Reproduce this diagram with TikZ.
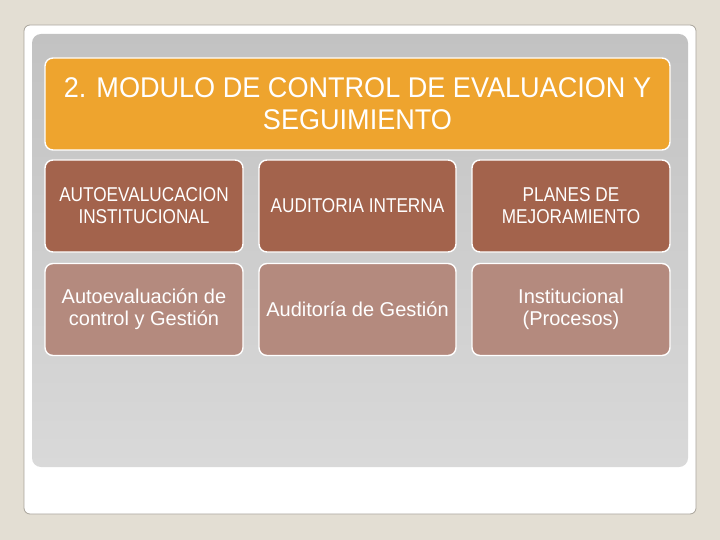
\documentclass[tikz,border=0pt]{standalone}
\usepackage{fontspec}
\setmainfont{Liberation Sans}
\newfontfamily\twfont[FakeStretch=0.86]{Liberation Sans}
\newfontfamily\twtitle[FakeStretch=0.95]{Liberation Sans}
\definecolor{bgbeige}{HTML}{E3DED3}
\definecolor{cardborder}{HTML}{A8A39A}
\definecolor{paneltop}{HTML}{C2C2C2}
\definecolor{panelbot}{HTML}{D9D9D9}
\definecolor{titleorange}{HTML}{EEA42E}
\definecolor{darkbrown}{HTML}{A3634C}
\definecolor{lightbrown}{HTML}{B48A7E}
\tikzset{
  box/.style={draw=white, line width=1.4pt, rounded corners=8pt, text=white,
    align=center, inner sep=0pt, font=\twfont\fontsize{20}{22}\selectfont},
  topbox/.style={box, fill=darkbrown},
  lowbox/.style={box, fill=lightbrown, font=\rmfamily\fontsize{20}{22}\selectfont},
}
\begin{document}
\begin{tikzpicture}[x=1pt,y=-1pt]
\useasboundingbox (0,0) rectangle (720,540);
\fill[bgbeige] (0,0) rectangle (720,540);
% card
\draw[cardborder, fill=white, line width=0.8pt, rounded corners=6pt] (24,25) rectangle (696,514);
% gray panel
\shade[top color=paneltop, bottom color=panelbot, rounded corners=9pt] (32,34) rectangle (688,467);
% title
\node[box, fill=titleorange, minimum width=625pt, minimum height=92pt,
  font=\twtitle\fontsize{28.5}{32}\selectfont] (title) at (357.5,104)
  {2. MODULO DE CONTROL DE EVALUACION Y\\SEGUIMIENTO};
% row 1
\node[topbox, minimum width=198pt, minimum height=92pt] (a1) at (144,206) {AUTOEVALUCACION\\INSTITUCIONAL};
\node[topbox, minimum width=197pt, minimum height=92pt] (a2) at (357.5,206) {AUDITORIA INTERNA};
\node[topbox, minimum width=198pt, minimum height=92pt] (a3) at (571,206) {PLANES DE\\MEJORAMIENTO};
% row 2
\node[lowbox, minimum width=198pt, minimum height=92pt] (b1) at (144,309.5) {Autoevaluación de\\control y Gestión};
\node[lowbox, minimum width=197pt, minimum height=92pt] (b2) at (357.5,309.5) {Auditoría de Gestión};
\node[lowbox, minimum width=198pt, minimum height=92pt] (b3) at (571,309.5) {Institucional\\(Procesos)};
\end{tikzpicture}
\end{document}
